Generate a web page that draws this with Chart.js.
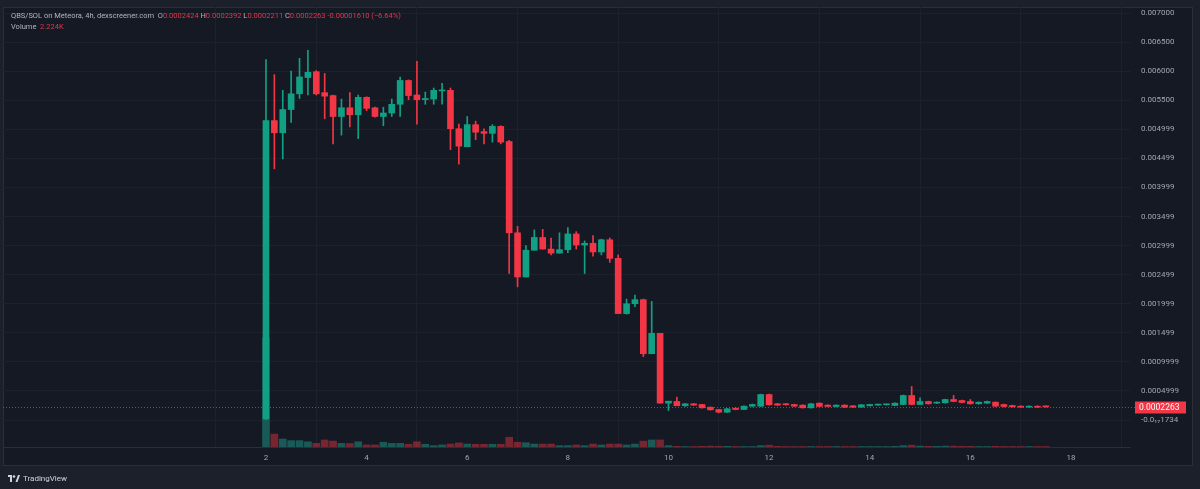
<!DOCTYPE html>
<html>
<head>
<meta charset="utf-8">
<script src="https://cdn.jsdelivr.net/npm/chart.js@4.4.1/dist/chart.umd.min.js"></script>
<style>
  html, body { margin: 0; padding: 0; background: #1c202b; }
  #wrap { width: 1200px; height: 489px; }
</style>
</head>
<body>
<div id="wrap"><canvas id="chart" width="1200" height="489"></canvas></div>
<script>
// ── 4h candles, first one at day 2 00:00 ──
const startDay = 2;
const stepDay  = 1 / 6;

const opens = [
  0.00002, 0.00515, 0.00494, 0.00534, 0.00561, 0.00589, 0.00599, 0.00563, 0.00558, 0.00522,
  0.00537, 0.00525, 0.00555, 0.00537, 0.00522, 0.00528, 0.00543, 0.00584, 0.00559, 0.00551,
  0.00552, 0.00566, 0.00567, 0.00501, 0.00470, 0.00508, 0.00496, 0.00493, 0.00505, 0.00479,
  0.00322, 0.00246, 0.00292, 0.00314, 0.00294, 0.00287, 0.00293, 0.00320, 0.00301, 0.00304,
  0.00289, 0.00310, 0.00278, 0.00183, 0.00200, 0.00207, 0.00114, 0.00149, 0.000290, 0.000319,
  0.000245, 0.000279, 0.000267, 0.000221, 0.000181, 0.000134, 0.000203, 0.000181, 0.000238, 0.000238,
  0.000439, 0.000279, 0.000279, 0.000267, 0.000256, 0.000210, 0.000290, 0.000256, 0.000233, 0.000256,
  0.000245, 0.000221, 0.000245, 0.000256, 0.000262, 0.000250, 0.000267, 0.000422, 0.000267, 0.000319,
  0.000290, 0.000296, 0.000353, 0.000336, 0.000319, 0.000279, 0.000290, 0.000307, 0.000267, 0.000250,
  0.000238, 0.000221, 0.000238, 0.0002424
];
const highs = [
  0.00620, 0.00594, 0.00567, 0.00600, 0.00622, 0.00636, 0.00601, 0.00596, 0.00559, 0.00552,
  0.00563, 0.00559, 0.00556, 0.00538, 0.00538, 0.00552, 0.00590, 0.00585, 0.00617, 0.00564,
  0.00571, 0.00579, 0.00571, 0.00509, 0.00522, 0.00514, 0.00501, 0.00508, 0.00506, 0.00481,
  0.00333, 0.00300, 0.00327, 0.00328, 0.00313, 0.00322, 0.00331, 0.00324, 0.00308, 0.00317,
  0.00311, 0.00313, 0.00284, 0.00208, 0.00215, 0.00208, 0.00204, 0.00149, 0.000324, 0.000393,
  0.000285, 0.000285, 0.000270, 0.000225, 0.000185, 0.000198, 0.000210, 0.000243, 0.000275, 0.000445,
  0.000445, 0.000285, 0.000285, 0.000272, 0.000262, 0.000285, 0.000296, 0.000262, 0.000262, 0.000262,
  0.000250, 0.000267, 0.000272, 0.000272, 0.000272, 0.000296, 0.000430, 0.000577, 0.000382, 0.000325,
  0.000312, 0.000358, 0.000422, 0.000341, 0.000353, 0.000312, 0.000325, 0.000312, 0.000272, 0.000256,
  0.000245, 0.000245, 0.000245, 0.0002424
];
const lows = [
  0.00000, 0.00432, 0.00449, 0.00512, 0.00553, 0.00559, 0.00559, 0.00518, 0.00475, 0.00490,
  0.00504, 0.00484, 0.00532, 0.00521, 0.00506, 0.00522, 0.00522, 0.00551, 0.00509, 0.00543,
  0.00543, 0.00543, 0.00465, 0.00440, 0.00470, 0.00482, 0.00475, 0.00478, 0.00475, 0.00252,
  0.00229, 0.00246, 0.00292, 0.00294, 0.00284, 0.00287, 0.00288, 0.00294, 0.00252, 0.00282,
  0.00284, 0.00271, 0.00183, 0.00182, 0.00195, 0.00109, 0.00114, 0.00029, 0.000164, 0.000245,
  0.000235, 0.000250, 0.000205, 0.000170, 0.000123, 0.000130, 0.000175, 0.000176, 0.000233, 0.000233,
  0.000256, 0.000250, 0.000256, 0.000233, 0.000205, 0.000205, 0.000227, 0.000227, 0.000227, 0.000215,
  0.000215, 0.000215, 0.000240, 0.000250, 0.000256, 0.000245, 0.000262, 0.000262, 0.000262, 0.000273,
  0.000285, 0.000290, 0.000313, 0.000296, 0.000273, 0.000273, 0.000285, 0.000233, 0.000227, 0.000221,
  0.000215, 0.000215, 0.000215, 0.0002211
];
const closes = [
  0.00515, 0.00494, 0.00534, 0.00561, 0.00590, 0.00598, 0.00561, 0.00557, 0.00522, 0.00537,
  0.00525, 0.00555, 0.00536, 0.00522, 0.00528, 0.00543, 0.00584, 0.00558, 0.00551, 0.00553,
  0.00567, 0.00567, 0.00501, 0.00471, 0.00508, 0.00495, 0.00493, 0.00505, 0.00478, 0.00322,
  0.00246, 0.00292, 0.00314, 0.00294, 0.00287, 0.00293, 0.00320, 0.00301, 0.00304, 0.00289,
  0.00310, 0.00278, 0.00183, 0.00200, 0.00207, 0.00114, 0.00149, 0.00029, 0.000324, 0.000245,
  0.000279, 0.000256, 0.000210, 0.000176, 0.000134, 0.000193, 0.000181, 0.000238, 0.000267, 0.000439,
  0.000262, 0.000256, 0.000262, 0.000238, 0.000210, 0.000279, 0.000233, 0.000233, 0.000256, 0.000221,
  0.000221, 0.000262, 0.000267, 0.000267, 0.000267, 0.000290, 0.000422, 0.000267, 0.000319, 0.000279,
  0.000307, 0.000353, 0.000319, 0.000301, 0.000279, 0.000307, 0.000319, 0.000238, 0.000233, 0.000227,
  0.000221, 0.000238, 0.000221, 0.0002263
];
// volume in K
const volumes = [
  480, 57, 35, 28, 28, 23, 16, 31, 26, 16,
  15, 23, 9, 9, 21, 16, 16, 12, 23, 12,
  6, 9, 13, 18, 13, 12, 12, 12, 12, 43,
  21, 19, 13, 13, 13, 6, 6, 9, 6, 13,
  9, 13, 13, 9, 13, 26, 31, 31, 6, 3,
  2, 2, 3, 4, 3, 3, 2, 2, 2, 6,
  8, 3, 2, 2, 2, 2, 2, 2, 2, 2,
  2, 2, 2, 2, 2, 3, 6, 8, 4, 3,
  3, 4, 4, 3, 3, 2, 2, 3, 2, 2,
  2, 2, 2, 2.224
];

const dayTicks   = [2, 4, 6, 8, 10, 12, 14, 16, 18];
const priceTicks = [0, 0.0005, 0.001, 0.0015, 0.002, 0.0025, 0.003, 0.0035,
                    0.004, 0.0045, 0.005, 0.0055, 0.006, 0.0065, 0.007];
const priceTickLabels = ['-0.0\u2081\u20871734', '0.0004999', '0.0009999', '0.001499', '0.001999',
  '0.002499', '0.002999', '0.003499', '0.003999', '0.004499', '0.004999', '0.005500',
  '0.006000', '0.006500', '0.007000'];

const lastPrice = '0.0002263';
const legendLine1 = [
  ['QBS/SOL on Meteora, 4h, dexscreener.com', 'g'], ['  O', 'g'], ['0.0002424', 'r'],
  [' H', 'g'], ['0.0002392', 'r'], [' L', 'g'], ['0.0002211', 'r'], [' C', 'g'],
  ['0.0002263', 'r'], [' -0.00001610 (\u22126.64%)', 'r']
];
const legendLine2 = [['Volume', 'g'], ['  2.224K', 'r']];

const UP = '#12a084', DOWN = '#f23645';
const UP_VOL = 'rgba(34,171,148,0.45)', DOWN_VOL = 'rgba(242,54,69,0.45)';
const FONT = 'Roboto, "Noto Sans", sans-serif';

const xs = closes.map((_, i) => startDay + i * stepDay);
const isUp = i => closes[i] >= opens[i];

const bodies = xs.map((x, i) => ({ x, y: [opens[i], closes[i]] }));
const wicks  = xs.map((x, i) => ({ x, y: [lows[i], highs[i]] }));
const vols   = xs.map((x, i) => ({ x, y: volumes[i] }));
const candleColors = xs.map((_, i) => isUp(i) ? UP : DOWN);
const volColors    = xs.map((_, i) => isUp(i) ? UP_VOL : DOWN_VOL);

const frame = {
    id: 'frame',
    beforeDraw(chart) {
        const { ctx } = chart;
        ctx.save();
        ctx.fillStyle = '#1c202b';
        ctx.fillRect(0, 0, chart.width, chart.height);
        ctx.fillStyle = '#151924';
        ctx.fillRect(3, 7, 1190, 459);
        ctx.strokeStyle = '#2a2e39';
        ctx.lineWidth = 1;
        ctx.strokeRect(3.5, 7.5, 1189, 458);
        ctx.restore();
    },
    afterDraw(chart) {
        const { ctx, chartArea: a } = chart;
        const y = Math.round(chart.scales.y.getPixelForValue(closes[closes.length - 1])) + 0.5;
        ctx.save();
        // last price line
        ctx.strokeStyle = 'rgba(242,54,69,0.75)';
        ctx.setLineDash([1, 2]);
        ctx.beginPath(); ctx.moveTo(a.left, y); ctx.lineTo(a.right + 5, y); ctx.stroke();
        ctx.setLineDash([]);
        // badge
        ctx.fillStyle = DOWN;
        ctx.fillRect(1135, y - 6, 51, 12);
        ctx.fillStyle = '#ffffff';
        ctx.font = '8.5px ' + FONT;
        ctx.textBaseline = 'middle';
        ctx.fillText(lastPrice, 1139, y + 0.5);

        // legend
        ctx.font = '7.5px ' + FONT;
        const colors = { g: '#b2b5be', r: '#e0394a' };
        const line = (parts, x, yy) => {
            parts.forEach(([t, c]) => {
                ctx.fillStyle = colors[c];
                ctx.fillText(t, x, yy);
                x += ctx.measureText(t).width;
            });
        };
        line(legendLine1, 11, 16.5);
        line(legendLine2, 11, 27.5);

        // TradingView mark
        ctx.fillStyle = '#d1d4dc';
        ctx.fillRect(8, 475, 4, 2);
        ctx.fillRect(10, 475, 2, 7);
        ctx.beginPath(); ctx.arc(14, 476.5, 1.3, 0, Math.PI * 2); ctx.fill();
        ctx.beginPath(); ctx.moveTo(15.5, 482); ctx.lineTo(18, 475); ctx.lineTo(20, 475); ctx.lineTo(17.5, 482); ctx.fill();
        ctx.font = '8px ' + FONT;
        ctx.fillText('TradingView', 23, 479);
        ctx.restore();
    }
};

new Chart(document.getElementById('chart'), {
    type: 'bar',
    data: {
        datasets: [
            { data: bodies, backgroundColor: candleColors, barThickness: 6, minBarLength: 1, grouped: false, order: 1, yAxisID: 'y' },
            { data: wicks,  backgroundColor: candleColors, barThickness: 1, grouped: false, order: 2, yAxisID: 'y' },
            { data: vols,   backgroundColor: volColors,    barThickness: 7, grouped: false, order: 3, yAxisID: 'v' }
        ]
    },
    options: {
        responsive: false,
        animation: false,
        devicePixelRatio: 1,
        layout: { padding: { left: 3, top: 7, right: 7, bottom: 23 } },
        plugins: { legend: { display: false }, tooltip: { enabled: false } },
        scales: {
            x: {
                type: 'linear', offset: false,
                min: -3.227, max: 19.173,
                afterBuildTicks: s => { s.ticks = dayTicks.map(v => ({ value: v })); },
                afterFit: s => { s.height = 19; s.paddingLeft = 0; s.paddingRight = 0; },
                ticks: { color: '#a3a6af', font: { family: FONT, size: 8 }, padding: 6, maxRotation: 0 },
                grid: { color: '#1d212c', drawTicks: false },
                border: { display: true, color: '#2a2e39' }
            },
            y: {
                position: 'right',
                min: -0.000464, max: 0.0071032,
                afterBuildTicks: s => { s.ticks = priceTicks.map(v => ({ value: v })); },
                afterFit: s => { s.width = 63; s.paddingTop = 0; s.paddingBottom = 0; },
                ticks: {
                    color: '#a3a6af', font: { family: FONT, size: 8 }, padding: 11,
                    callback: (v, i) => priceTickLabels[i]
                },
                grid: { color: '#1d212c', drawTicks: false },
                border: { display: false }
            },
            v: {
                display: false,
                min: 0, max: 1938
            }
        }
    },
    plugins: [frame]
});
</script>
</body>
</html>
